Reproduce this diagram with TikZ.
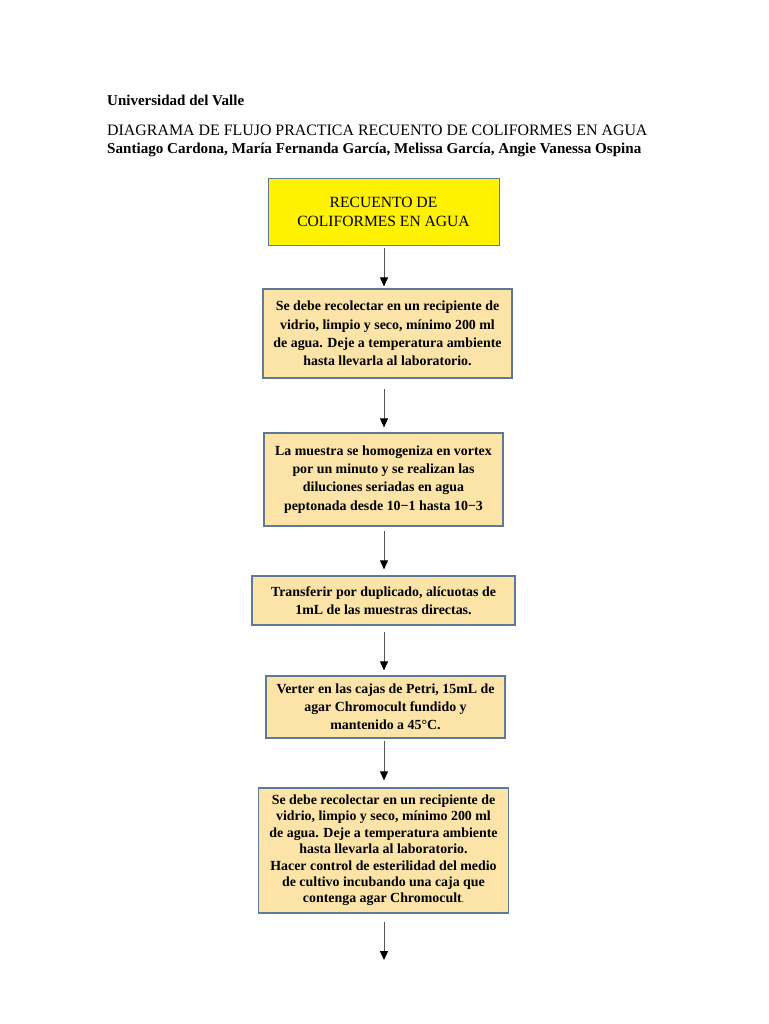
\documentclass[tikz,border=0pt]{standalone}
\usepackage{fontspec}
\setmainfont{Liberation Serif}
\usetikzlibrary{arrows.meta}
\definecolor{boxfill}{HTML}{FCE4A8}
\definecolor{boxline}{HTML}{5E7A99}
\definecolor{arrline}{HTML}{555555}
\tikzset{
  stepbox/.style={draw=boxline, line width=1.2pt, fill=boxfill, inner sep=0pt, align=center,
    font=\bfseries\fontsize{13.9}{18.2}\selectfont},
  titlebox/.style={draw=boxline, line width=1pt, fill=yellow, inner sep=0pt, align=center,
    font=\fontsize{15.6}{19}\selectfont},
  head/.style={anchor=base west, inner sep=0pt, font=\fontsize{15.9}{16}\selectfont},
  arr/.style={draw=arrline, line width=0.9pt, -{Triangle[width=8pt,length=9pt,fill=black,color=black]}}
}
\begin{document}
\begin{tikzpicture}[x=1pt,y=-1pt]
\useasboundingbox (0,0) rectangle (768,1024);
\coordinate (ax) at (384,0);
\node[head, font=\bfseries\fontsize{15}{16}\selectfont] (h1) at (107,106) {Universidad del Valle};
\node[head] (h2) at (107,136) {DIAGRAMA DE FLUJO PRACTICA RECUENTO DE COLIFORMES EN AGUA};
\node[head, font=\bfseries\fontsize{15.1}{16}\selectfont] (h3) at (107,154) {Santiago Cardona, María Fernanda García, Melissa García, Angie Vanessa Ospina};

\node[titlebox, minimum width=231pt, minimum height=66pt] (b1) at (383.5,212) {RECUENTO DE\\COLIFORMES EN AGUA};
\node[stepbox, minimum width=249pt, minimum height=89pt] (b2) at (387.5,333.5) {Se debe recolectar en un recipiente de\\vidrio, limpio y seco, mínimo 200 ml\\de agua. Deje a temperatura ambiente\\hasta llevarla al laboratorio.};
\node[stepbox, minimum width=239pt, minimum height=93pt] (b3) at (383.5,479.5) {La muestra se homogeniza en vortex\\por un minuto y se realizan las\\diluciones seriadas en agua\\peptonada desde 10−1 hasta 10−3};
\node[stepbox, minimum width=263pt, minimum height=49pt] (b4) at (383.5,600.5) {Transferir por duplicado, alícuotas de\\1mL de las muestras directas.};
\node[stepbox, minimum width=239pt, minimum height=62pt] (b5) at (385.5,707) {Verter en las cajas de Petri, 15mL de\\agar Chromocult fundido y\\mantenido a 45°C.};
\node[stepbox, minimum width=250pt, minimum height=125pt, font=\bfseries\fontsize{13.9}{16.4}\selectfont] (b6) at (383.5,850.5) {Se debe recolectar en un recipiente de\\vidrio, limpio y seco, mínimo 200 ml\\de agua. Deje a temperatura ambiente\\hasta llevarla al laboratorio.\\Hacer control de esterilidad del medio\\de cultivo incubando una caja que\\contenga agar Chromocult{\mdseries\fontsize{9}{10}\selectfont.}};
\coordinate (end) at (384,960);

\draw[arr, shorten <=2pt, shorten >=2pt] (b1.south -| ax) -- (b2.north -| ax);
\draw[arr, shorten <=10pt, shorten >=5pt] (b2.south -| ax) -- (b3.north -| ax);
\draw[arr, shorten <=4pt, shorten >=6pt] (b3.south -| ax) -- (b4.north -| ax);
\draw[arr, shorten <=6pt, shorten >=5pt] (b4.south -| ax) -- (b5.north -| ax);
\draw[arr, shorten <=2pt, shorten >=7pt] (b5.south -| ax) -- (b6.north -| ax);
\draw[arr, shorten <=8pt] (b6.south -| ax) -- (end);
\end{tikzpicture}
\end{document}
